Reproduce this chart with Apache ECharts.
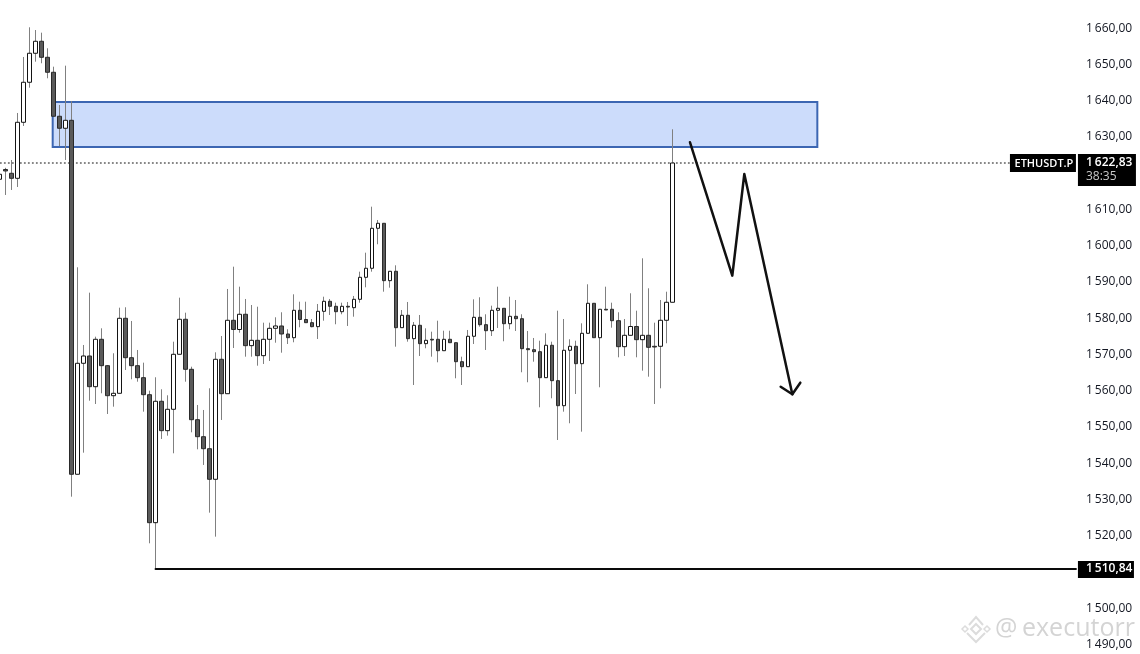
<!DOCTYPE html>
<html><head><meta charset="utf-8">
<style>html,body{margin:0;padding:0;background:#fff}#c{width:1140px;height:654px}</style>
<script src="https://cdn.jsdelivr.net/npm/echarts@6/dist/echarts.min.js"></script>
</head><body><div id="c"></div>
<script>
const opens=[1618.34,1621.04,1619.99,1618.61,1634.06,1645.10,1653.10,1656.41,1651.99,1647.86,1635.72,1632.41,1634.61,1536.96,1567.58,1569.59,1561.12,1574.20,1566.92,1558.64,1559.30,1579.99,1569.12,1566.92,1563.61,1558.92,1523.61,1557.10,1548.99,1554.89,1570.06,1579.72,1565.92,1552.02,1547.33,1544.02,1535.58,1568.68,1559.19,1579.44,1576.90,1581.10,1572.44,1573.92,1569.68,1574.20,1577.23,1577.87,1575.66,1574.64,1582.20,1579.66,1578.78,1577.68,1581.92,1584.68,1583.30,1581.81,1583.30,1582.92,1585.23,1591.30,1593.79,1604.82,1606.20,1590.37,1592.96,1577.40,1580.82,1574.37,1578.06,1572.99,1574.20,1574.20,1571.05,1574.20,1573.26,1568.02,1566.64,1575.03,1580.27,1578.23,1576.57,1582.20,1582.75,1578.50,1580.54,1579.88,1571.61,1571.33,1570.78,1563.61,1572.55,1562.78,1555.88,1571.17,1572.27,1567.47,1575.85,1584.13,1574.64,1582.48,1582.48,1579.33,1572.16,1575.30,1577.73,1574.09,1575.30,1572.27,1572.27,1579.44,1584.41];
const closes=[1619.72,1620.63,1618.61,1634.06,1645.10,1653.10,1656.41,1651.99,1647.86,1635.72,1632.41,1634.61,1536.96,1567.58,1569.59,1561.12,1574.20,1566.92,1558.64,1559.30,1579.99,1569.12,1566.92,1563.61,1558.92,1523.61,1557.10,1548.99,1554.89,1570.06,1579.72,1565.92,1552.02,1547.33,1544.02,1535.58,1568.68,1559.19,1579.44,1576.90,1581.10,1572.44,1573.92,1569.68,1574.20,1577.23,1577.87,1575.66,1574.64,1582.20,1579.66,1578.78,1577.68,1581.92,1584.68,1583.30,1581.81,1583.30,1583.10,1585.23,1591.30,1593.79,1604.82,1606.20,1590.37,1592.96,1577.40,1580.82,1574.37,1578.06,1572.99,1573.92,1574.00,1571.05,1574.20,1573.26,1568.02,1566.64,1575.03,1580.27,1578.23,1576.57,1582.20,1582.75,1578.50,1580.54,1579.88,1571.61,1571.33,1570.78,1563.61,1572.55,1562.78,1555.88,1571.17,1572.27,1567.47,1575.85,1584.13,1574.64,1582.48,1582.28,1579.33,1572.16,1575.30,1577.73,1574.09,1575.30,1571.99,1572.07,1579.44,1584.41,1622.83];
const lows=[1617.04,1614.01,1615.39,1616.21,1633.04,1643.61,1650.78,1650.34,1646.20,1635.72,1627.52,1623.66,1530.78,1536.96,1542.92,1557.26,1556.35,1559.30,1553.59,1555.61,1559.30,1565.73,1563.16,1562.50,1554.23,1517.92,1510.84,1546.70,1547.61,1542.75,1570.06,1562.50,1548.54,1543.85,1539.53,1526.37,1519.75,1551.94,1559.19,1571.80,1576.02,1569.40,1569.40,1566.92,1567.39,1568.21,1573.26,1570.50,1572.90,1573.37,1577.51,1578.78,1577.51,1574.28,1579.33,1580.90,1578.34,1581.10,1577.87,1580.43,1584.30,1588.54,1592.85,1600.41,1587.33,1588.44,1572.16,1577.40,1573.54,1561.59,1569.59,1571.72,1569.40,1567.85,1571.05,1573.26,1563.44,1561.59,1566.64,1572.90,1577.68,1571.25,1575.11,1577.32,1573.65,1576.96,1576.49,1565.10,1562.34,1568.02,1555.44,1563.61,1557.92,1546.42,1554.23,1551.03,1559.11,1548.71,1575.85,1574.64,1560.96,1582.28,1577.40,1569.23,1569.59,1575.30,1569.23,1565.54,1563.88,1556.35,1560.68,1573.10,1584.41];
const highs=[1620.35,1621.50,1623.66,1636.63,1652.08,1660.27,1659.52,1658.78,1654.48,1649.40,1638.83,1649.68,1639.94,1594.06,1572.63,1587.06,1574.92,1577.23,1567.11,1570.34,1582.92,1583.03,1579.25,1571.25,1567.75,1560.02,1563.72,1560.41,1558.75,1573.54,1585.68,1581.54,1566.64,1556.08,1554.70,1560.68,1570.61,1575.11,1588.08,1594.23,1588.71,1585.32,1583.66,1583.19,1578.78,1578.78,1580.27,1581.65,1576.96,1586.61,1584.57,1584.57,1579.80,1583.94,1585.95,1585.32,1584.30,1584.30,1584.49,1586.15,1592.85,1598.09,1610.78,1607.11,1606.20,1592.96,1594.61,1582.28,1584.49,1578.97,1580.90,1577.23,1576.30,1579.33,1576.57,1576.57,1573.26,1569.40,1576.77,1585.23,1585.79,1581.10,1583.47,1588.71,1582.75,1585.95,1585.04,1581.10,1576.49,1574.56,1573.81,1575.85,1573.54,1582.09,1579.80,1574.20,1573.81,1578.61,1589.37,1584.13,1582.48,1588.71,1584.30,1581.65,1579.80,1586.89,1582.09,1596.54,1588.27,1578.78,1585.04,1587.33,1632.13];
const categoryCount=180;
const categories=Array.from({length:categoryCount},(_,i)=>String(i));
const zoneCorners=[[8.88,1639.66],[136.13,1627.25]];
const forecastPath=[[114.94,1628.54],[121.98,1591.75],[123.98,1619.80],[131.97,1559.03]];
const arrowHead=[[130.03,1561.12],[131.97,1559.03],[133.3,1562.23]];
const lastPriceLine=[[-0.5,1622.83],[168.2,1622.83]];
const lowLine=[[26,1510.84],[179.17,1510.84]];
const priceTags=[[179.5,1622.83,'1\u2009622,83','38:35','ETHUSDT.P'],[179.5,1510.84,'1\u2009510,84','','']];

const FONT='"Open Sans",sans-serif';
const ohlc=opens.map((o,i)=>[o,closes[i],lows[i],highs[i]]);
const bodies=opens.map((o,i)=>[o,closes[i],Math.min(o,closes[i]),Math.max(o,closes[i])]);
const lineSeries=(data,w,type,color,z)=>({type:'line',xAxisIndex:1,yAxisIndex:0,data,showSymbol:false,symbol:'none',silent:true,z,clip:false,
  lineStyle:{color,width:w,type,cap:'round',join:'round'}});
const chart=echarts.init(document.getElementById('c'),null,{renderer:'canvas'});
chart.setOption({
  animation:false,backgroundColor:'#ffffff',
  grid:{left:-3.68,width:1081.62,top:-7.99,height:652.5,containLabel:false,outerBoundsMode:'none'},
  xAxis:[{type:'category',data:categories,show:false,boundaryGap:true},
         {type:'value',min:-0.5,max:categoryCount-0.5,show:false}],
  yAxis:{type:'value',min:1490,max:1670,interval:10,position:'right',
    axisLine:{show:false},axisTick:{show:false},splitLine:{show:false},
    axisLabel:{margin:8,color:'#131722',fontFamily:FONT,fontSize:12,
      formatter:v=>{const s=v.toFixed(2).replace('.',',');return s[0]+'\u2009'+s.slice(1);}}},
  series:[
    {type:'line',xAxisIndex:1,data:[],z:1,silent:true,
     markArea:{silent:true,itemStyle:{color:'#ccdcfb',borderColor:'#3c66b2',borderWidth:2},
       data:[[{coord:zoneCorners[0]},{coord:zoneCorners[1]}]]}},
    lineSeries(lastPriceLine,1,[1,3],'#111111',2),
    {type:'candlestick',data:ohlc,barWidth:1,z:3,silent:true,clip:false,
     itemStyle:{color:'#808080',color0:'#808080',borderColor:'#808080',borderColor0:'#808080',borderWidth:1}},
    {type:'candlestick',data:bodies,barWidth:4,z:4,silent:true,clip:false,
     itemStyle:{color:'#ffffff',color0:'#5a5a5a',borderColor:'#141414',borderColor0:'#2a2a2a',borderWidth:1}},
    lineSeries(lowLine,2,'solid','#0a0a0a',5),
    lineSeries(forecastPath,2.5,'solid','#111111',6),
    lineSeries(arrowHead,2.5,'solid','#111111',6),
    {type:'custom',xAxisIndex:1,yAxisIndex:0,clip:false,silent:true,z:7,
     data:priceTags,encode:{x:0,y:1},
     renderItem(params,api){
       const tag=priceTags[params.dataIndex];
       const p=api.coord([tag[0],tag[1]]);
       const x=p[0],y=p[1];
       const kids=[];
       const bold='600 12px '+FONT;
       if(tag[3]){
         kids.push({type:'rect',shape:{x:x,y:y-9,width:58,height:32},style:{fill:'#000'}});
         kids.push({type:'rect',shape:{x:x-68,y:y-9,width:66,height:18},style:{fill:'#000'}});
         kids.push({type:'text',x:x-34,y:y+1,style:{text:tag[4],fill:'#fff',font:'600 11px '+FONT,textAlign:'center',textVerticalAlign:'middle'}});
         kids.push({type:'text',x:x+8,y:y,style:{text:tag[2],fill:'#fff',font:bold,textAlign:'left',textVerticalAlign:'middle'}});
         kids.push({type:'text',x:x+8,y:y+14,style:{text:tag[3],fill:'#c8c8c8',font:'12px '+FONT,textAlign:'left',textVerticalAlign:'middle'}});
       } else {
         kids.push({type:'rect',shape:{x:x,y:y-8,width:56,height:17},style:{fill:'#000'}});
         kids.push({type:'text',x:x+8,y:y,style:{text:tag[2],fill:'#fff',font:bold,textAlign:'left',textVerticalAlign:'middle'}});
       }
       return {type:'group',children:kids};
     }}
  ],
  graphic:[
    {type:'polyline',silent:true,z:10,shape:{points:[[969,625],[976,617],[983,625]]},style:{stroke:'#dcdcdc',lineWidth:2,fill:'none'}},
    {type:'polyline',silent:true,z:10,shape:{points:[[967,633],[976,642],[985,633]]},style:{stroke:'#dcdcdc',lineWidth:2,fill:'none'}},
    {type:'polygon',silent:true,z:10,shape:{points:[[976,624],[981,629],[976,634],[971,629]]},style:{stroke:'#dcdcdc',lineWidth:2,fill:'none'}},
    {type:'polygon',silent:true,z:10,shape:{points:[[965,626],[968,629],[965,632],[962,629]]},style:{stroke:'#dcdcdc',lineWidth:1.5,fill:'none'}},
    {type:'polygon',silent:true,z:10,shape:{points:[[987,626],[990,629],[987,632],[984,629]]},style:{stroke:'#dcdcdc',lineWidth:1.5,fill:'none'}},
    {type:'text',silent:true,z:10,x:995,y:629,style:{text:'@',fill:'#d4d4d4',font:'25px '+FONT,textVerticalAlign:'middle'}},
    {type:'text',silent:true,z:10,x:1022,y:629,style:{text:'executorr',fill:'#d4d4d4',font:'25px '+FONT,textVerticalAlign:'middle'}}
  ]
});
</script></body></html>
